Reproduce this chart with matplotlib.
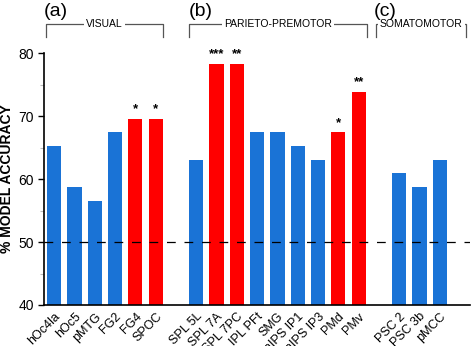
import matplotlib.pyplot as plt
from matplotlib.ticker import MultipleLocator

plt.rcParams["font.family"] = ["Liberation Sans", "DejaVu Sans"]

labels = ["hOc4la", "hOc5", "pMTG", "FG2", "FG4", "SPOC",
          "SPL 5L", "SPL 7A", "SPL 7PC", "IPL PFt", "SMG", "aIPS IP1", "aIPS IP3", "PMd", "PMv",
          "PSC 2", "PSC 3b", "pMCC"]
positions = [0, 1, 2, 3, 4, 5,
             7, 8, 9, 10, 11, 12, 13, 14, 15,
             17, 18, 19]
accuracy = [65.2, 58.7, 56.5, 67.4, 69.6, 69.6,
            63.1, 78.3, 78.3, 67.4, 67.4, 65.2, 63.0, 67.4, 73.9,
            60.9, 58.7, 63.0]
stars = ["", "", "", "", "*", "*",
         "", "***", "**", "", "", "", "", "*", "**",
         "", "", ""]
groups = ["VISUAL", "PARIETO-PREMOTOR", "SOMATOMOTOR"]
group_letters = ["(a)", "(b)", "(c)"]

BLUE = "#1a73d6"
RED = "#ff0000"

fig = plt.figure(figsize=(4.74, 3.46), dpi=100)
ax = fig.add_axes([0.093, 0.1185, 0.899, 0.728])

colors = [RED if s else BLUE for s in stars]
ax.bar(positions, accuracy, width=0.7, color=colors, zorder=2)

for p, v, s in zip(positions, accuracy, stars):
    if s:
        ax.text(p, v + 0.6, s, ha="center", va="bottom", fontsize=9.5, fontweight="bold")

ax.axhline(50, color="black", lw=0.9, ls=(0, (7, 7)), zorder=3)

ax.set_xlim(-0.5, 20.5)
ax.set_ylim(40, 80)
ax.set_xticks(positions)
ax.set_xticklabels(labels, rotation=45, ha="right", rotation_mode="anchor", fontsize=9)
ax.tick_params(axis="x", length=0, pad=4)
ax.yaxis.set_major_locator(MultipleLocator(10))
ax.yaxis.set_minor_locator(MultipleLocator(5))
ax.tick_params(axis="y", which="major", length=4, width=1, labelsize=10)
ax.tick_params(axis="y", which="minor", length=3, width=0.8, color="#bbbbbb")
ax.set_ylabel("% MODEL ACCURACY", fontsize=10, fontweight="bold", labelpad=3)

for side in ["top", "right"]:
    ax.spines[side].set_visible(False)
ax.spines["left"].set_linewidth(1.2)
ax.spines["bottom"].set_linewidth(1.2)

# group brackets above the plot
brackets = [(-0.39, 5.37), (6.65, 15.42), (15.86, 20.3)]
letter_x = [0.1, 7.2, 16.3]
ytop, ybot = 84.6, 82.5
for (x0, x1), name, letter, lx in zip(brackets, groups, group_letters, letter_x):
    ax.plot([x0, x0, x1, x1], [ybot, ytop, ytop, ybot], color="#555555", lw=0.9, clip_on=False)
    ax.text((x0 + x1) / 2, ytop, name, ha="center", va="center", fontsize=7.5,
            bbox=dict(facecolor="white", edgecolor="none", pad=1.5))
    ax.text(lx, 86.6, letter, ha="center", va="center", fontsize=14)

fig.savefig("out.png", dpi=100)
